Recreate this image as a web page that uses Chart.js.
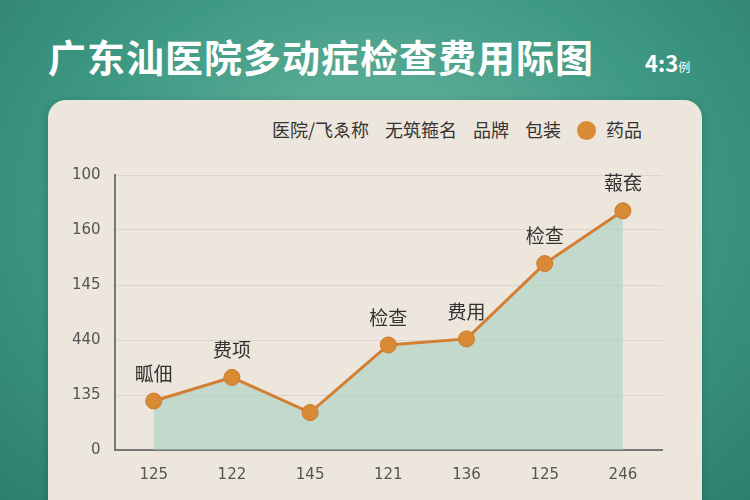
<!DOCTYPE html>
<html><head><meta charset="utf-8">
<script src="https://cdn.jsdelivr.net/npm/chart.js@4"></script>
<style>
body{margin:0;width:750px;height:500px;overflow:hidden;font-family:"Noto Sans CJK SC","Noto Sans",sans-serif;
background:radial-gradient(ellipse at 50% 40%,#6fb9a3 0%,#3f9a84 55%,#2c7f6c 100%);position:relative}
#title{position:absolute;left:48px;top:28px;color:#fff;font-size:38px;font-weight:bold;letter-spacing:1px}
#ratio{position:absolute;left:645px;top:46px;color:#fff;font-size:22px;font-weight:bold}
#ratio small{font-size:12px;font-weight:normal}
#card{position:absolute;left:48px;top:100px;width:654px;height:430px;background:#ede6dc;border-radius:18px;box-shadow:0 2px 8px rgba(0,0,0,.2)}
#legend{position:absolute;right:60px;top:16px;font-size:18px;color:#333}
#legend span{margin-left:16px}
#legend i{display:inline-block;width:19px;height:19px;border-radius:50%;background:#d98a35;vertical-align:-3px;margin:0 10px 0 16px}
#wrap{position:absolute;left:0;top:52px;width:654px;height:340px}
</style></head><body>
<div id="title">广东汕医院多动症检查费用际图</div>
<div id="ratio">4:3<small>例</small></div>
<div id="card">
<div id="legend"><span>医院/飞ゑ称</span><span>无筑箍名</span><span>品牌</span><span>包装</span><i></i>药品</div>
<div id="wrap"><canvas id="c"></canvas></div>
</div>
<script>
var xLabels = ["125","122","145","121","136","125","246"];
var costs = [0.89, 1.32, 0.68, 1.91, 2.02, 3.39, 4.35];
var pointNames = ["畖佃","费项","","检查","费用","检查","蕔奃"];
var yTickLabels = ["0","135","440","145","160","100"];

var pointText = {
  id: "pointText",
  afterDatasetsDraw: function(chart){
    var ctx = chart.ctx;
    var meta = chart.getDatasetMeta(0);
    ctx.save();
    ctx.font = "19px 'Noto Sans CJK SC'";
    ctx.fillStyle = "#333";
    ctx.textAlign = "center";
    ctx.textBaseline = "bottom";
    meta.data.forEach(function(p, i){
      ctx.fillText(pointNames[i], p.x, p.y - 18);
    });
    ctx.restore();
  }
};

new Chart(document.getElementById("c"), {
  type: "line",
  data: {
    labels: xLabels,
    datasets: [{
      data: costs,
      borderColor: "#d27f33",
      borderWidth: 3,
      backgroundColor: "rgba(160,205,190,0.55)",
      fill: "origin",
      lineTension: 0,
      pointRadius: 8,
      pointBackgroundColor: "#d98a35",
      pointBorderColor: "#c9792c",
      pointBorderWidth: 1
    }]
  },
  options: {
    responsive: true,
    maintainAspectRatio: false,
    animation: false,
    layout: {padding: {left: 10, right: 40, top: 14, bottom: 0}},
    plugins: {legend: {display: false}, tooltip: {enabled: false}},
    scales: {
      x: {
        offset: true,
        grid: {display: false, drawTicks: true, tickLength: 8, color: "#777"},
        border: {display: true, color: "#777", width: 2},
        ticks: {color: "#555", font: {size: 15, family: "DejaVu Sans"}, padding: 8}
      },
      y: {
        min: 0, max: 5,
        grid: {color: "rgba(0,0,0,0.07)", drawTicks: false},
        border: {display: true, color: "#777", width: 2},
        ticks: {stepSize: 1, color: "#555", padding: 14, font: {size: 15, family: "DejaVu Sans"},
          callback: function(v){ return yTickLabels[v]; }}
      }
    }
  },
  plugins: [pointText]
});
</script>
</body></html>
